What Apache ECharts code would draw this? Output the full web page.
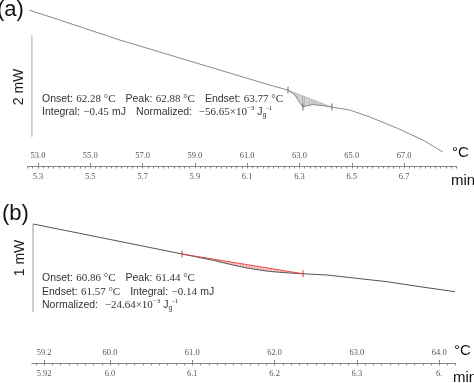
<!DOCTYPE html>
<html><head><meta charset="utf-8">
<script src="https://cdn.jsdelivr.net/npm/echarts@6/dist/echarts.min.js"></script>
<style>html,body{margin:0;padding:0;background:#fff}#c{width:474px;height:383px}</style>
</head><body><div id="c"></div>
<script>
// ---------- Panel (a) data ----------
const tempA = [52.66, 53.84, 56.14, 58.43, 60.72, 61.87, 62.56, 62.83, 63.02, 63.13, 63.30, 63.52, 63.86, 64.24, 64.93, 65.70, 66.73, 67.72, 68.49];
const heatA = [0, -0.196, -0.589, -0.942, -1.295, -1.472, -1.570, -1.668, -1.825, -1.904, -1.875, -1.855, -1.874, -1.904, -1.963, -2.100, -2.316, -2.551, -2.787];
const markTempA = [62.56, 63.13, 64.24];
const markHeatA = [-1.570, -1.904, -1.904];
const tempTicksA = [53, 55, 57, 59, 61, 63, 65, 67];
const timeTicksA = [5.3, 5.5, 5.7, 5.9, 6.1, 6.3, 6.5, 6.7];
const timeLabelsA = ['5.3', '5.5', '5.7', '5.9', '6.1', '6.3', '6.5', '6.7'];
const scaleA = {temp: 52.77, top: -0.49, mW: 2};

// ---------- Panel (b) data ----------
const tempB = [59.064, 59.88, 60.875, 61.288, 61.519, 61.70, 61.94, 62.18, 62.345, 62.637, 63.366, 63.767, 64.19];
const heatB = [0, -0.153, -0.341, -0.420, -0.472, -0.506, -0.540, -0.557, -0.566, -0.580, -0.656, -0.713, -0.769];
const markTempB = [60.875, 62.345];
const markHeatB = [-0.341, -0.566];
const tempTicksB = [59.2, 60, 61, 62, 63, 64];
const timeTicksB = [5.92, 6.0, 6.1, 6.2, 6.3, 6.4];
const timeLabelsB = ['5.92', '6.0', '6.1', '6.2', '6.3', '6.'];
const scaleB = {temp: 59.065, top: 0, mW: 1};

// ---------- helpers ----------
function nearestLabel(v, vals, labels) {
  let bi = 0;
  for (let i = 1; i < vals.length; i++) if (Math.abs(vals[i] - v) < Math.abs(vals[bi] - v)) bi = i;
  return labels[bi];
}
function range(a, b, step) { const r = []; for (let k = 0; a + k * step <= b + 1e-9; k++) r.push(+(a + k * step).toFixed(4)); return r; }
function pairs(xs, ys) { return xs.map((x, i) => [x, ys[i]]); }

function hatchSeries(xs, ys, i0, i1, gi, color, step, width) {
  const t0 = xs[i0], t1 = xs[i1], h0 = ys[i0], h1 = ys[i1];
  const base = t => h0 + (t - t0) / (t1 - t0) * (h1 - h0);
  const data = [];
  for (let i = i0; i < i1; i++) data.push([xs[i], ys[i], i]);
  return {
    type: 'custom', xAxisIndex: gi * 2, yAxisIndex: gi, silent: true, z: 1,
    data: data,
    renderItem: function (params, api) {
      const i = api.value(2);
      const p0 = api.coord([xs[i], ys[i]]), p1 = api.coord([xs[i + 1], ys[i + 1]]);
      const b0 = api.coord([xs[i], base(xs[i])]), b1 = api.coord([xs[i + 1], base(xs[i + 1])]);
      const children = [];
      for (let x = Math.ceil(p0[0]); x < p1[0]; x += step) {
        const t = (x - p0[0]) / (p1[0] - p0[0]);
        const yc = p0[1] + t * (p1[1] - p0[1]);
        const yb = b0[1] + t * (b1[1] - b0[1]);
        children.push({type: 'line', shape: {x1: x, y1: yb, x2: x, y2: yc}, style: {stroke: color, lineWidth: width}});
      }
      return {type: 'group', children: children};
    }
  };
}

const labelFont = {fontFamily: 'Liberation Serif', fontSize: 8.5, color: '#555'};
function axesFor(gi, tMin, tMax, tTicks, minorStep, timeTicks, timeLabels) {
  return [
    {
      gridIndex: gi, type: 'value', min: tMin, max: tMax, position: 'bottom',
      axisLine: {show: true, onZero: false, lineStyle: {color: '#888', width: 1}},
      axisTick: {show: true, inside: true, length: 3, customValues: tTicks, lineStyle: {color: '#888'}},
      axisLabel: Object.assign({inside: true, margin: 6, customValues: tTicks, formatter: v => (+v).toFixed(1)}, labelFont),
      splitLine: {show: false}
    },
    {
      gridIndex: gi, type: 'value', min: tMin / 10, max: tMax / 10, position: 'bottom',
      axisLine: {show: false, onZero: false},
      axisTick: {show: true, inside: false, length: 2.5, customValues: range(Math.ceil(tMin / minorStep) * minorStep / 10, tMax / 10, minorStep / 10), lineStyle: {color: '#888'}},
      axisLabel: Object.assign({margin: 6, customValues: timeTicks, formatter: v => nearestLabel(v, timeTicks, timeLabels)}, labelFont),
      splitLine: {show: false}
    }
  ];
}

const sans = "'Liberation Sans', 'Open Sans', sans-serif";
const serif = "'Liberation Serif', serif";
const rich = {
  l: {fontFamily: sans, fontSize: 10.5, fill: '#333'},
  n: {fontFamily: serif, fontSize: 11, fill: '#333'},
  sup: {fontFamily: serif, fontSize: 7, fill: '#333', verticalAlign: 'top', padding: [0, 0, 6, 0]},
  sub: {fontFamily: sans, fontSize: 7, fill: '#333', verticalAlign: 'bottom', padding: [5, 0, 0, 0]}
};
function richText(x, y, text) {
  return {type: 'text', x: x, y: y, style: {text: text, rich: rich, fill: '#333', verticalAlign: 'middle', lineHeight: 14}};
}

const option = {
  animation: false,
  backgroundColor: '#fff',
  grid: [
    {left: 27.5, right: 17.6, top: 5, bottom: 217},
    {left: 31.8, right: 18.3, top: 218.7, bottom: 20}
  ],
  xAxis: [].concat(
    axesFor(0, 52.6, 69.0, tempTicksA, 0.2, timeTicksA, timeLabelsA),
    axesFor(1, 59.05, 64.2, tempTicksB, 0.1, timeTicksB, timeLabelsB)
  ),
  yAxis: [
    {gridIndex: 0, type: 'value', min: -3.06, max: 0.1, show: false},
    {gridIndex: 1, type: 'value', min: -1.58, max: 0.06, show: false}
  ],
  series: [
    // panel (a)
    {type: 'line', xAxisIndex: 0, yAxisIndex: 0, data: pairs(tempA, heatA), showSymbol: false, lineStyle: {color: '#8a8a8a', width: 1}, z: 3},
    {type: 'line', xAxisIndex: 0, yAxisIndex: 0, data: [[markTempA[0], markHeatA[0]], [markTempA[2], markHeatA[2]]], showSymbol: false, lineStyle: {color: '#aaa', width: 0.6}, z: 2},
    hatchSeries(tempA, heatA, 6, 13, 0, '#8c8c8c', 1.6, 0.7),
    {type: 'scatter', xAxisIndex: 0, yAxisIndex: 0, data: pairs(markTempA, markHeatA), symbol: 'rect', symbolSize: [1.2, 7], itemStyle: {color: '#666'}, z: 4},
    {type: 'line', xAxisIndex: 0, yAxisIndex: 0, data: [[scaleA.temp, scaleA.top], [scaleA.temp, scaleA.top - scaleA.mW]], showSymbol: false, lineStyle: {color: '#aaa', width: 1}},
    // panel (b)
    {type: 'line', xAxisIndex: 2, yAxisIndex: 1, data: pairs(tempB, heatB), showSymbol: false, lineStyle: {color: '#555', width: 1}, z: 3},
    {type: 'line', xAxisIndex: 2, yAxisIndex: 1, data: pairs(markTempB, markHeatB), showSymbol: false, lineStyle: {color: '#e0413a', width: 0.9}, z: 4},
    hatchSeries(tempB, heatB, 2, 8, 1, '#f08a85', 1.5, 0.8),
    {type: 'scatter', xAxisIndex: 2, yAxisIndex: 1, data: pairs(markTempB, markHeatB), symbol: 'rect', symbolSize: [1.2, 7], itemStyle: {color: '#d93a33'}, z: 5},
    {type: 'line', xAxisIndex: 2, yAxisIndex: 1, data: [[scaleB.temp, scaleB.top], [scaleB.temp, scaleB.top - scaleB.mW]], showSymbol: false, lineStyle: {color: '#999', width: 1}}
  ],
  graphic: [
    {type: 'text', x: -3, y: 10, style: {text: '(a)', font: "22px 'Liberation Sans', sans-serif", fill: '#111', verticalAlign: 'middle'}},
    {type: 'text', x: 2, y: 214, style: {text: '(b)', font: "22px 'Liberation Sans', sans-serif", fill: '#111', verticalAlign: 'middle'}},
    {type: 'text', x: 19, y: 87, rotation: Math.PI / 2, style: {text: '2 mW', font: "14px 'Liberation Sans', sans-serif", fill: '#222', align: 'center', verticalAlign: 'middle'}},
    {type: 'text', x: 20, y: 258, rotation: Math.PI / 2, style: {text: '1 mW', font: "14px 'Liberation Sans', sans-serif", fill: '#222', align: 'center', verticalAlign: 'middle'}},
    {type: 'text', x: 452, y: 153, style: {text: '°C', font: "15px 'Liberation Sans', sans-serif", fill: '#111', verticalAlign: 'middle'}},
    {type: 'text', x: 451, y: 181, style: {text: 'min', font: "15px 'Liberation Sans', sans-serif", fill: '#111', verticalAlign: 'middle'}},
    {type: 'text', x: 454, y: 351, style: {text: '°C', font: "15px 'Liberation Sans', sans-serif", fill: '#111', verticalAlign: 'middle'}},
    {type: 'text', x: 453, y: 378, style: {text: 'min', font: "15px 'Liberation Sans', sans-serif", fill: '#111', verticalAlign: 'middle'}},
    richText(42, 99, '{l|Onset:} {n|62.28 °C}   {l|Peak:} {n|62.88 °C}   {l|Endset:} {n|63.77 °C}'),
    richText(42, 112, '{l|Integral:} {n|−0.45} {l|mJ}   {l|Normalized:}  {n|−56.65×10}{sup|−3}{l| J}{sub|g}{sup|-1}'),
    richText(42, 278, '{l|Onset:} {n|60.86 °C}   {l|Peak:} {n|61.44 °C}'),
    richText(42, 292, '{l|Endset:} {n|61.57 °C}   {l|Integral:} {n|−0.14} {l|mJ}'),
    richText(42, 305, '{l|Normalized:}  {n|−24.64×10}{sup|−3}{l| J}{sub|g}{sup|-1}')
  ]
};
const chart = echarts.init(document.getElementById('c'), null, {renderer: 'canvas'});
chart.setOption(option);
</script>
</body></html>
